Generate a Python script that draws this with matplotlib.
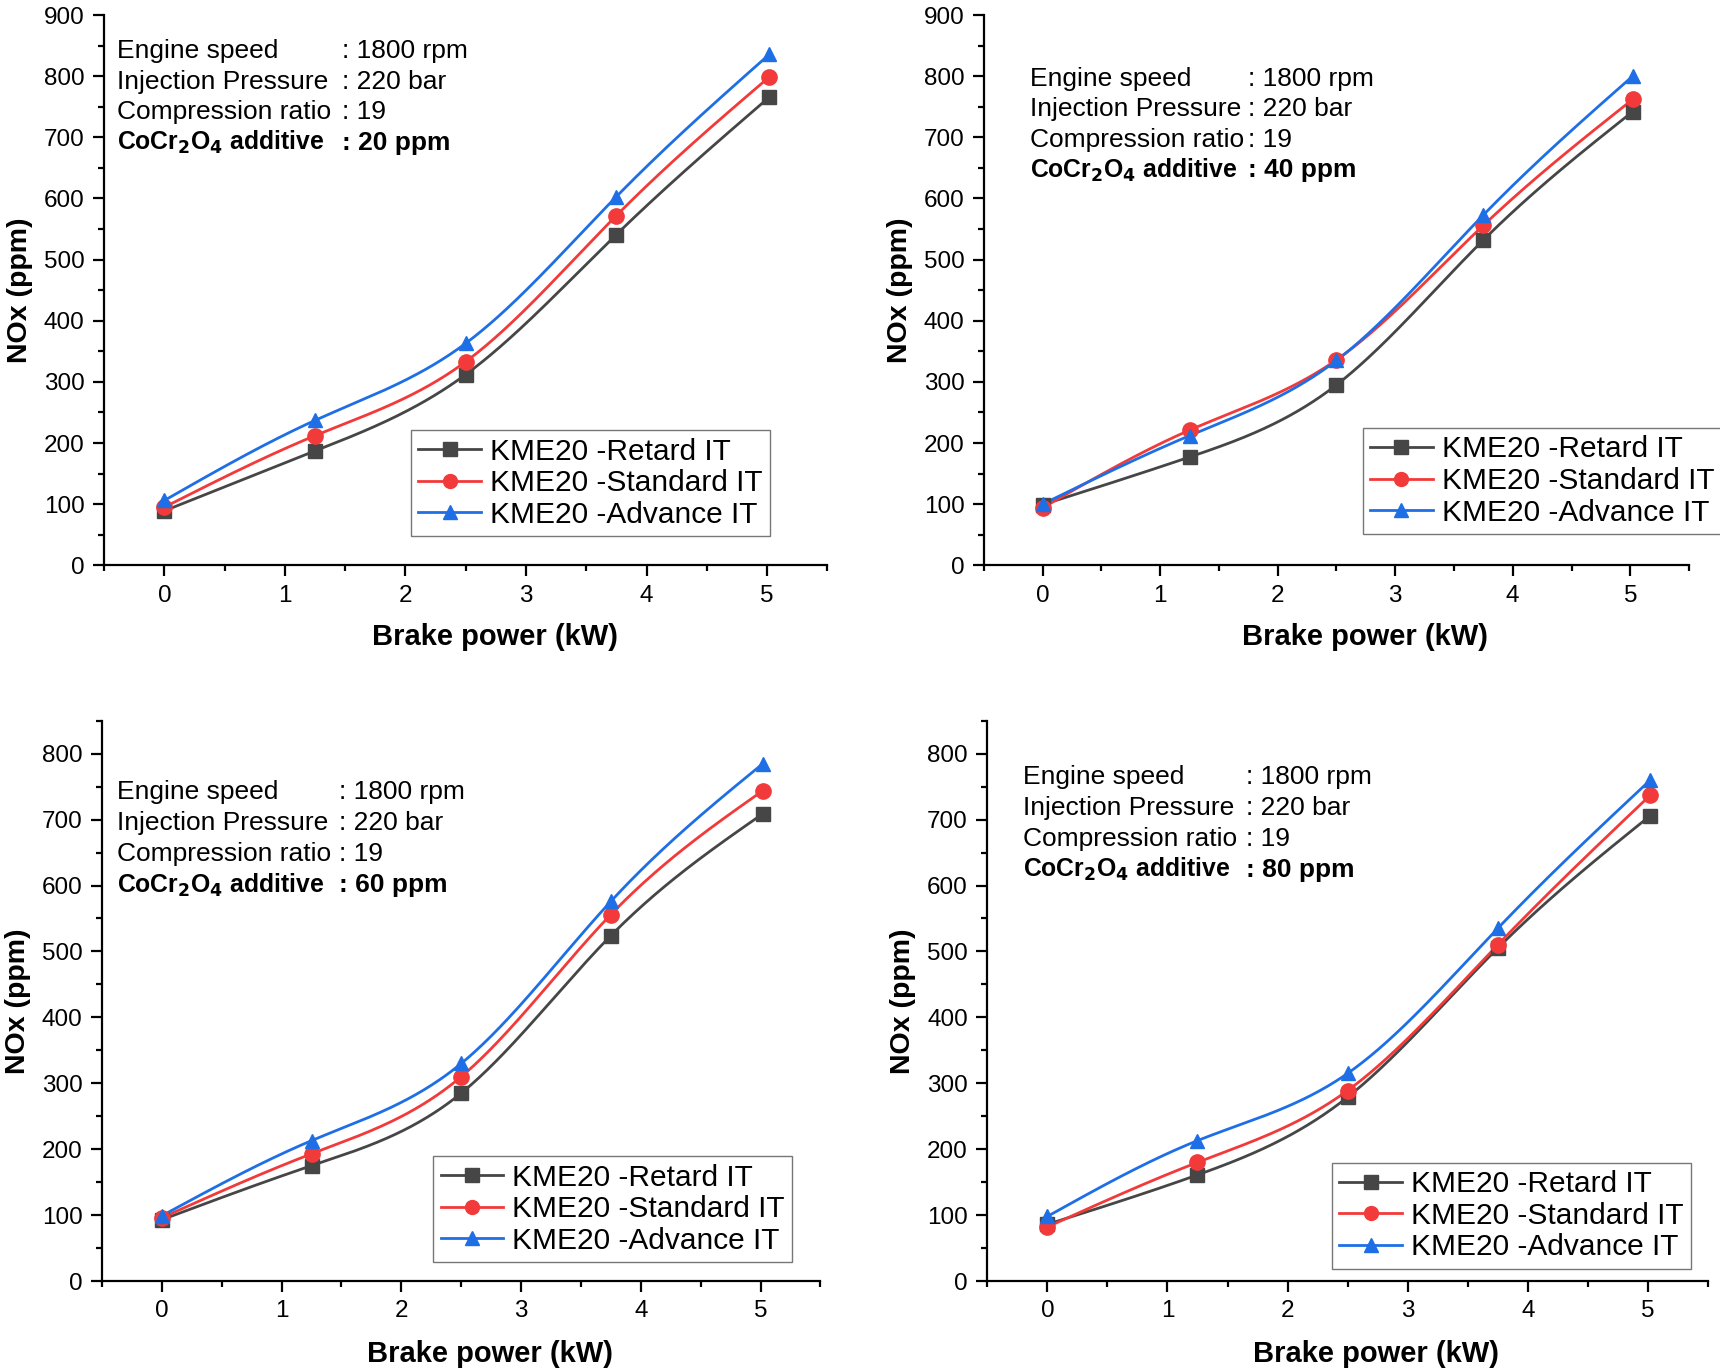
import numpy as np
import matplotlib
matplotlib.use("Agg")
import matplotlib.pyplot as plt
from matplotlib.lines import Line2D
from matplotlib.ticker import MultipleLocator

plt.rcParams['font.family'] = ['Liberation Sans', 'DejaVu Sans']

# ---------------- data ----------------
brake_power = [0, 1.25, 2.5, 3.75, 5.02]

series_names = ["KME20 -Retard IT", "KME20 -Standard IT", "KME20 -Advance IT"]

# 20 ppm
p20_retard = [89, 187, 312, 541, 766]
p20_standard = [95, 212, 333, 572, 799]
p20_advance = [106, 237, 363, 603, 836]
# 40 ppm
p40_retard = [99, 177, 295, 532, 742]
p40_standard = [94, 221, 336, 556, 762]
p40_advance = [100, 212, 335, 573, 800]
# 60 ppm
p60_retard = [93, 175, 285, 524, 709]
p60_standard = [96, 193, 310, 556, 744]
p60_advance = [99, 213, 330, 576, 785]
# 80 ppm
p80_retard = [86, 161, 279, 505, 706]
p80_standard = [82, 180, 289, 510, 737]
p80_advance = [98, 213, 315, 535, 760]

additive_labels = ["20 ppm", "40 ppm", "60 ppm", "80 ppm"]
ylims = [900, 900, 850, 850]

colors = ["#464646", "#f23a3a", "#1e6fe6"]
markers = ["s", "o", "^"]

panels = [
    (p20_retard, p20_standard, p20_advance),
    (p40_retard, p40_standard, p40_advance),
    (p60_retard, p60_standard, p60_advance),
    (p80_retard, p80_standard, p80_advance),
]

# ---------------- layout ----------------
axes_rects = [
    [0.0605, 0.588, 0.4205, 0.401],
    [0.572, 0.588, 0.410, 0.401],
    [0.0593, 0.0663, 0.4177, 0.4084],
    [0.574, 0.0663, 0.419, 0.4084],
]
text_pos = [  # x_label, x_colon, y_line1, y_line4
    (0.018, 0.329, 0.934, 0.768),
    (0.065, 0.375, 0.884, 0.718),
    (0.021, 0.330, 0.873, 0.706),
    (0.049, 0.359, 0.900, 0.734),
]
legend_pos = [(0.424, 0.2455), (0.537, 0.2495), (0.461, 0.223), (0.478, 0.211)]


def natural_spline(x, y, n=300):
    x = np.asarray(x, float)
    y = np.asarray(y, float)
    k = len(x)
    h = np.diff(x)
    A = np.zeros((k, k))
    b = np.zeros(k)
    A[0, 0] = 1
    A[-1, -1] = 1
    for i in range(1, k - 1):
        A[i, i - 1] = h[i - 1]
        A[i, i] = 2 * (h[i - 1] + h[i])
        A[i, i + 1] = h[i]
        b[i] = 6 * ((y[i + 1] - y[i]) / h[i] - (y[i] - y[i - 1]) / h[i - 1])
    M = np.linalg.solve(A, b)
    xs = np.linspace(x[0], x[-1], n)
    idx = np.clip(np.searchsorted(x, xs) - 1, 0, k - 2)
    x0, x1 = x[idx], x[idx + 1]
    hh = x1 - x0
    t0 = x1 - xs
    t1 = xs - x0
    ys = (M[idx] * t0 ** 3 / (6 * hh) + M[idx + 1] * t1 ** 3 / (6 * hh)
          + (y[idx] / hh - M[idx] * hh / 6) * t0
          + (y[idx + 1] / hh - M[idx + 1] * hh / 6) * t1)
    return xs, ys


fig = plt.figure(figsize=(17.2, 13.72), dpi=100)

for p, (rect, data) in enumerate(zip(axes_rects, panels)):
    ax = fig.add_axes(rect)
    for vals, c, m in zip(data, colors, markers):
        xs, ys = natural_spline(brake_power, vals)
        ax.plot(xs, ys, color=c, lw=2.0, zorder=2)
    for vals, c, m in zip(data, colors, markers):
        ax.plot(brake_power, vals, linestyle='none', marker=m, color=c,
                markersize=10.5 if m != 'o' else 11, zorder=3)

    ax.set_xlim(-0.5, 5.5)
    ax.set_ylim(0, ylims[p])
    ax.xaxis.set_major_locator(MultipleLocator(1))
    ax.xaxis.set_minor_locator(MultipleLocator(0.5))
    ax.yaxis.set_major_locator(MultipleLocator(100))
    ax.yaxis.set_minor_locator(MultipleLocator(50))
    for s in ['top', 'right']:
        ax.spines[s].set_visible(False)
    for s in ['left', 'bottom']:
        ax.spines[s].set_linewidth(1.6)
    ax.tick_params(which='major', direction='out', length=8, width=1.6,
                   labelsize=17.5, pad=6)
    ax.tick_params(which='minor', direction='out', length=4.5, width=1.6)
    ax.set_xlabel("Brake power (kW)", fontsize=21, fontweight='bold', labelpad=12)
    ax.xaxis.set_label_coords(0.54, -0.105)
    ax.set_ylabel("NOx (ppm)", fontsize=20.5, fontweight='bold', labelpad=8)

    xl, xc, y1, y4 = text_pos[p]
    ys_lines = np.linspace(y1, y4, 4)
    lab = ["Engine speed", "Injection Pressure", "Compression ratio",
           r"CoCr$_\mathbf{2}$O$_\mathbf{4}$ additive"]
    val = [": 1800 rpm", ": 220 bar", ": 19", ": " + additive_labels[p]]
    for i in range(4):
        w = 'bold' if i == 3 else 'normal'
        ax.text(xl, ys_lines[i], lab[i], transform=ax.transAxes,
                fontsize=17.8 if i == 3 else 19,
                fontweight=w, va='center', ha='left')
        ax.text(xc, ys_lines[i], val[i], transform=ax.transAxes, fontsize=19,
                fontweight=w, va='center', ha='left')

    handles = [Line2D([], [], color=c, lw=2.0, marker=m, markersize=10)
               for c, m in zip(colors, markers)]
    leg = ax.legend(handles, series_names, loc='upper left',
                    bbox_to_anchor=legend_pos[p], borderaxespad=0,
                    fontsize=21.5, frameon=True, fancybox=False,
                    handlelength=2.1, handletextpad=0.3, labelspacing=0.12,
                    borderpad=0.25)
    leg.get_frame().set_edgecolor('#555555')
    leg.get_frame().set_linewidth(1.0)

fig.savefig("out.png", dpi=100)
